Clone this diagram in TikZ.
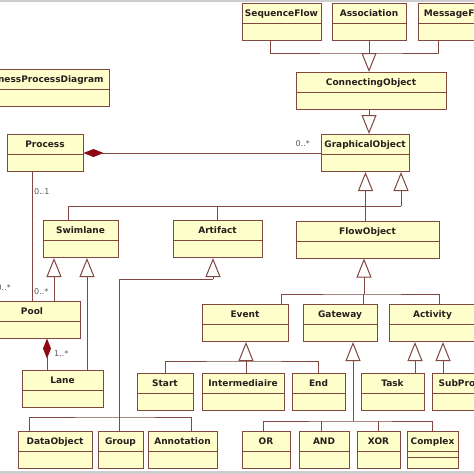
\documentclass[tikz,border=0pt]{standalone}
\usepackage{fontspec}
\setmainfont{DejaVu Sans}
\usepackage{tikz}
\usetikzlibrary{calc,positioning,arrows.meta}
\definecolor{umlfill}{RGB}{255,255,204}
\definecolor{umledge}{RGB}{128,72,64}
\definecolor{umldiamond}{RGB}{140,10,20}
\definecolor{umltext}{RGB}{40,30,30}
\definecolor{scangray}{RGB}{205,205,205}
\tikzset{
  umlline/.style={draw=umledge, line width=1pt},
  cls/.style={
    rectangle,
    draw=umledge, line width=1pt,
    fill=umlfill,
    font=\bfseries\fontsize{9}{10}\selectfont,
    text=umltext,
    minimum width=#1,
    inner xsep=2pt, inner ysep=3pt,
    text height=10pt, text depth=21pt,
    path picture={
      \draw[umlline] ([yshift=-20pt]path picture bounding box.north west)
                  -- ([yshift=-20pt]path picture bounding box.north east);
    }},
  inh/.style={umlline, -{Triangle[length=19pt, width=15pt, fill=white]}},
  comp/.style={umlline, {Diamond[length=20pt, width=8pt, fill=umldiamond, color=umldiamond]}-},
  mult/.style={font=\fontsize{8}{9}\selectfont, text=black!65, inner sep=1pt}
}
\begin{document}
\begin{tikzpicture}[x=1pt, y=-1pt]
    \useasboundingbox (0,0) rectangle (474,474);
    \clip (0,0) rectangle (474,474);
    \fill[white] (0,0) rectangle (474,474);
    \fill[scangray] (0,0) rectangle (474,2);
    \fill[scangray] (0,471) rectangle (474,474);

    \node[cls=79] (seqflow) at (281.5,22) {SequenceFlow};
    \node[cls=74] (assoc) at (369,22) {Association};
    \node[cls=80] (msgflow) at (458,22) {MessageFlow};
    \node[cls=150] (connobj) at (371,91) {ConnectingObject};
    \node[cls=138] (bpd) at (40,88) {BusinessProcessDiagram};
    \node[cls=76] (process) at (45,153) {Process};
    \node[cls=88] (graphobj) at (365,153) {GraphicalObject};

    \node[cls=75] (swimlane) at (80.5,239) {Swimlane};
    \node[cls=89] (artifact) at (217.5,239) {Artifact};
    \node[cls=143] (flowobj) at (367.5,239.5) {FlowObject};
    \node[cls=96] (pool) at (32,319.5) {Pool};
    \node[cls=81] (lane) at (62.5,389) {Lane};

    \node[cls=86] (event) at (245,323) {Event};
    \node[cls=74] (gateway) at (340,323) {Gateway};
    \node[cls=87] (activity) at (432.5,323) {Activity};
    \node[cls=56] (start) at (165,392) {Start};
    \node[cls=82] (interm) at (243,392) {Intermediaire};
    \node[cls=53] (end) at (318.5,392) {End};
    \node[cls=63] (task) at (392.5,392) {Task};
    \node[cls=72] (subproc) at (468,392) {SubProcess};

    \node[cls=74] (dataobj) at (55,450) {DataObject};
    \node[cls=45] (group) at (120.5,450) {Group};
    \node[cls=69] (annot) at (182.5,450) {Annotation};
    \node[cls=48] (gwor) at (266,450) {OR};
    \node[cls=50] (gwand) at (324,450) {AND};
    \node[cls=43] (gwxor) at (378.5,450) {XOR};
    \node[cls=51] (gwcomplex) at (432.5,450) {Complex};
    \draw[umlline] ([yshift=-26pt]gwcomplex.north west) -- ([yshift=-26pt]gwcomplex.north east);

    \coordinate (cj) at (368,53);
    \draw[umlline] ([xshift=-11pt]seqflow.south) |- (cj) -| ([xshift=-20pt]msgflow.south);
    \draw[inh] (assoc.south) -- (connobj.north -| assoc.south);
    \draw[inh] ([xshift=-2pt]connobj.south) -- ([xshift=-2pt]connobj.south |- graphobj.north);

    \draw[comp] (process.east) -- (graphobj.west);
    \node[mult, anchor=east] (mgraph) at (311,144) {0..*};
    \draw[umlline] ([xshift=-13pt]process.south) -- (pool.north);
    \node[mult, anchor=west] (mproc) at (33,192) {0..1};

    \coordinate (gj) at (401,206);
    \draw[inh] (gj) -- (gj |- graphobj.south);
    \draw[umlline] ([xshift=-12pt]swimlane.north) |- (gj);
    \draw[umlline] (artifact.north) -- (artifact.north |- gj);
    \draw[inh] ([xshift=-2pt]flowobj.north) -- ([xshift=-2pt]flowobj.north |- graphobj.south);

    \draw[inh] ([xshift=22pt]pool.north) -- ([xshift=22pt]pool.north |- swimlane.south);
    \draw[inh] ([xshift=24.5pt]lane.north) -- ([xshift=24.5pt]lane.north |- swimlane.south);
    \node[mult, anchor=west] (mpool) at (33,292) {0..*};
    \node[mult, anchor=east] (mbpd) at (12,288) {0..*};
    \draw[comp] ([xshift=15pt]pool.south) -- ([xshift=15pt]pool.south |- lane.north);
    \node[mult, anchor=west] (mlane) at (53,354) {1..*};

    \coordinate (aj) at (213,279);
    \draw[inh] (aj) -- (aj |- artifact.south);
    \draw[umlline] ([xshift=-1.5pt]group.north) |- (aj);
    \coordinate (dj) at (119,417);
    \draw[umlline] ([xshift=-26pt]dataobj.north) |- (dj) -| ([xshift=8.5pt]annot.north);

    \coordinate (fj) at (364,294);
    \draw[inh] (fj) -- (fj |- flowobj.south);
    \draw[umlline] ([xshift=36pt]event.north) |- (fj) -| ([xshift=6.5pt]activity.north);
    \draw[umlline] ([xshift=23pt]gateway.north) -- ([xshift=23pt]gateway.north |- fj);

    \coordinate (ej) at (246,361);
    \draw[inh] (ej) -- (ej |- event.south);
    \draw[umlline] (start.north) |- (ej) -| (end.north);
    \draw[umlline] ([xshift=3pt]interm.north) -- (ej);

    \coordinate (gwj) at (353,421);
    \draw[inh] (gwj) -- (gwj |- gateway.south);
    \draw[umlline] ([xshift=-3pt]gwor.north) |- (gwj) -| (gwcomplex.north);
    \draw[umlline] ([xshift=-3pt]gwand.north) -- ([xshift=-3pt]gwand.north |- gwj);
    \draw[umlline] (gwxor.north) -- (gwxor.north |- gwj);

    \draw[inh] ([xshift=22.5pt]task.north) -- ([xshift=22.5pt]task.north |- activity.south);
    \draw[inh] ([xshift=-25pt]subproc.north) -- ([xshift=-25pt]subproc.north |- activity.south);
\end{tikzpicture}
\end{document}
